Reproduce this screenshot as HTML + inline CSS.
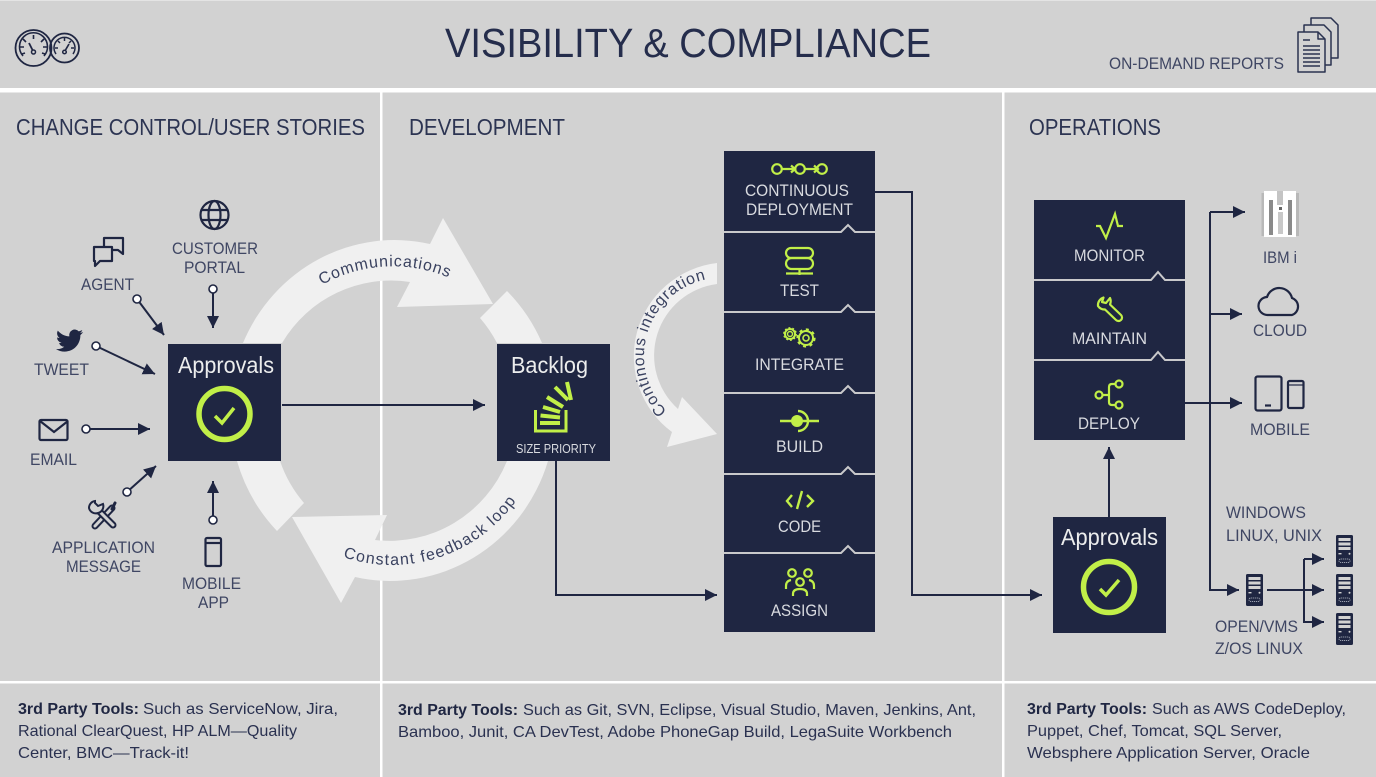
<!DOCTYPE html>
<html><head><meta charset="utf-8"><title>Visibility &amp; Compliance</title>
<style>
html,body{margin:0;padding:0;background:#d2d2d2;width:1376px;height:777px;overflow:hidden}
svg{display:block;font-family:"Liberation Sans",sans-serif}
.l{font-size:17px;fill:#3f4663}
.h{font-size:23px;fill:#2c3452}
.n{font-size:17px;fill:#d9dbe0}
.a{font-size:23px;fill:#eceded}
.f{font-size:16px;fill:#2a3150}
.b{font-size:16px;fill:#1f2642;font-weight:bold}
.c{font-size:16px;fill:#3a4260}
.nv{fill:none;stroke:#1f2642;stroke-width:2.2}
.lm{fill:none;stroke:#c1ef48;stroke-width:2.2}
.cn{fill:none;stroke:#1f2642;stroke-width:2;marker-end:url(#ar)}
.dv{fill:none;stroke:#c9c9cb;stroke-width:2}
</style></head><body>
<svg width="1376" height="777" viewBox="0 0 1376 777" xmlns="http://www.w3.org/2000/svg">
<defs>
<marker id="ar" viewBox="0 0 10 10" refX="10" refY="5" markerUnits="userSpaceOnUse" markerWidth="12" markerHeight="12" orient="auto"><path d="M0 0L10 5L0 10z" fill="#1f2642"/></marker>
<path id="p1" d="M322,285 A144 144 0 0 1 452,279"/>
<path id="p2" d="M343,557 A153 153 0 0 0 522,492"/>
<path id="p3" d="M667,411 A78 78 0 0 1 708,279"/>
<g id="srv"><rect width="17" height="32" rx="1.5" fill="#1f2642"/><rect x="2.5" y="3" width="12" height="3" fill="#d2d2d2"/><rect x="2.5" y="7.5" width="12" height="3" fill="#d2d2d2"/><rect x="2.5" y="12" width="12" height="3" fill="#d2d2d2"/><rect x="2.5" y="18" width="3" height="1.4" fill="#d2d2d2"/><circle cx="13.5" cy="18.7" r="1" fill="#d2d2d2"/><rect x="3" y="24" width="11" height="3.5" rx="1.7" fill="none" stroke="#9aa0ae" stroke-width="1" stroke-dasharray="1.2 .8"/></g>
<circle id="dot" r="4" fill="#fff" stroke="#1f2642" stroke-width="1.6"/>
</defs>
<rect width="1376" height="777" fill="#d2d2d2"/>
<rect width="1376" height="1" fill="#e4e4e4"/>
<!-- grid -->
<g fill="#fff">
<rect x="0" y="88" width="1376" height="4.5"/>
<rect x="0" y="681" width="1376" height="2.5"/>
<rect x="380" y="92" width="2.5" height="685"/>
<rect x="1002" y="92" width="2.5" height="685"/>
</g>
<!-- header -->
<text x="445" y="57" font-size="41" fill="#252d4c" textLength="486" lengthAdjust="spacingAndGlyphs">VISIBILITY &amp; COMPLIANCE</text>
<text x="1109" y="69" class="l" font-size="18" textLength="175" lengthAdjust="spacingAndGlyphs">ON-DEMAND REPORTS</text>
<!-- gauges -->
<g style="fill:none;stroke:#1f2642">
<circle cx="33.5" cy="48" r="18" stroke-width="1.8"/>
<path d="M23 56A14 14 0 1 1 44 56" stroke-width="1.6"/>
<path d="M22 54l3-1M20 47h4M23 39l3 3M33.5 35v4M44 39l-3 3M47 47h-4M45 54l-3-1" stroke-width="1.6"/>
<circle cx="33.5" cy="52" r="2" stroke-width="1.5"/><path d="M32.5 50L29 43" stroke-width="1.8"/>
<circle cx="64.5" cy="48" r="14.5" stroke-width="1.8"/>
<path d="M56 54A10.5 10.5 0 1 1 73 54" stroke-width="1.5"/>
<path d="M55 48h3M58 41l2 2M64.5 38v3M71 41l-2 2M74 48h-3" stroke-width="1.5"/>
<circle cx="64.5" cy="52" r="1.8" stroke-width="1.5"/><path d="M65.5 50L69 44" stroke-width="1.7"/>
</g>
<!-- docs -->
<g stroke="#2a3250" stroke-width="1.5" fill="#d2d2d2" stroke-linejoin="round">
<path d="M1311 18h20l7 7v33h-27z"/>
<path d="M1304 25h20l7 7v33h-27z"/>
<path d="M1298 32h20l7 7v33h-27z"/>
<path d="M1318 32v7h7M1303 40h7M1303 46h17M1303 50h17M1303 54h17M1303 58h17M1303 62h17M1303 66h17" fill="none"/>
</g>
<!-- section headings -->
<text x="16" y="135" class="h" textLength="349" lengthAdjust="spacingAndGlyphs">CHANGE CONTROL/USER STORIES</text>
<text x="409" y="135" class="h" textLength="156" lengthAdjust="spacingAndGlyphs">DEVELOPMENT</text>
<text x="1029" y="135" class="h" textLength="132" lengthAdjust="spacingAndGlyphs">OPERATIONS</text>
<!-- big cycle -->
<g fill="#f0f0f0">
<path d="M243,343 A165 170 0 0 1 430,244 L443,218 L493,304 L397,307 L410,282 A127 129 0 0 0 282,343Z"/>
<path d="M507,291 A165 170 0 0 1 542,343 L497,343 A127 129 0 0 0 480,318Z"/>
<path d="M548,461 A165 170 0 0 1 355,577 L341,603 L292,517 L387,515 L375,540 A127 129 0 0 0 507,461Z"/>
<path d="M237,461 A165 170 0 0 0 277,531 L304,503 A127 129 0 0 1 280,461Z"/>
<path d="M717,263 A94 94 0 0 0 672,432 L667,447 L717,434 L682,397 L678,409 A72 72 0 0 1 717,284Z"/>
</g>
<text class="c" letter-spacing="0.9"><textPath href="#p1">Communications</textPath></text>
<text class="c" letter-spacing="1.25"><textPath href="#p2">Constant feedback loop</textPath></text>
<text class="c" letter-spacing="0.8"><textPath href="#p3">Continous integration</textPath></text>
<!-- left column icons -->
<g class="nv">
<circle cx="214.5" cy="215" r="14"/><ellipse cx="214.5" cy="215" rx="6" ry="14"/><path d="M201 210h27M201 220h27"/>
<path d="M104 246V238H123V254L118 250H112" stroke-linejoin="round"/><path d="M94 247H112V261H100L95 266V261H94Z" stroke-linejoin="round"/>
<rect x="39.5" y="420" width="28" height="20" rx="1.5"/><path d="M40 421l14 11 14-11"/>
<rect x="205.5" y="538" width="15.5" height="28" rx="1.5"/><path d="M205.5 543h15.5"/>
</g>
<path transform="translate(56,327) scale(1.13)" fill="#1f2642" d="M23.95 4.57a10 10 0 0 1-2.82.77 4.96 4.96 0 0 0 2.16-2.72c-.95.55-2 .96-3.12 1.2a4.92 4.92 0 0 0-8.38 4.48C7.69 8.1 4.07 6.13 1.64 3.16c-.42.73-.66 1.58-.66 2.48 0 1.71.87 3.21 2.19 4.1a4.9 4.9 0 0 1-2.23-.61v.06a4.92 4.92 0 0 0 3.95 4.83 5 5 0 0 1-2.21.08 4.94 4.94 0 0 0 4.6 3.42A9.87 9.87 0 0 1 0 19.54a14 14 0 0 0 7.56 2.21c9.05 0 14-7.5 14-13.98 0-.21 0-.42-.02-.63a9.94 9.94 0 0 0 2.46-2.55z"/>
<!-- tools icon -->
<g fill="none" stroke-linecap="round">
<path d="M95 526L112 508" stroke="#1f2642" stroke-width="7"/><path d="M95 526L112 508" stroke="#d2d2d2" stroke-width="3"/>
<path d="M115 503l-3 6" stroke="#1f2642" stroke-width="3"/>
<path d="M97 509L113 525" stroke="#1f2642" stroke-width="7"/><path d="M97 509L113 525" stroke="#d2d2d2" stroke-width="3"/>
<path d="M95 501a7 7 0 0 0-6 7 7 7 0 0 0 9 5 l0 0a7 7 0 0 0 5-9l-5 2-3-3z" stroke="#1f2642" stroke-width="2" fill="#d2d2d2"/>
</g>
<!-- left labels -->
<g class="l">
<text x="172" y="254" textLength="86" lengthAdjust="spacingAndGlyphs">CUSTOMER</text>
<text x="184" y="273" textLength="61" lengthAdjust="spacingAndGlyphs">PORTAL</text>
<text x="81" y="290" textLength="53" lengthAdjust="spacingAndGlyphs">AGENT</text>
<text x="34" y="375" textLength="55" lengthAdjust="spacingAndGlyphs">TWEET</text>
<text x="30" y="465" textLength="47" lengthAdjust="spacingAndGlyphs">EMAIL</text>
<text x="52" y="553" textLength="103" lengthAdjust="spacingAndGlyphs">APPLICATION</text>
<text x="66" y="572" textLength="75" lengthAdjust="spacingAndGlyphs">MESSAGE</text>
<text x="182" y="589" textLength="59" lengthAdjust="spacingAndGlyphs">MOBILE</text>
<text x="198" y="608" textLength="31" lengthAdjust="spacingAndGlyphs">APP</text>
</g>
<!-- left arrows -->
<path class="cn" d="M213 289V328"/>
<path class="cn" d="M137 299L164 335"/>
<path class="cn" d="M96 346L155 374"/>
<path class="cn" d="M86 429H150"/>
<path class="cn" d="M127 492L156 466"/>
<path class="cn" d="M213 520V481"/>
<use href="#dot" x="213" y="289"/><use href="#dot" x="137" y="299"/><use href="#dot" x="96" y="346"/><use href="#dot" x="86" y="429"/><use href="#dot" x="127" y="492"/><use href="#dot" x="213" y="520"/>
<!-- connectors -->
<path class="cn" d="M282 405H485"/>
<path class="cn" d="M556 461V595H717"/>
<path class="cn" d="M875 192H912V595H1042"/>
<path class="cn" d="M1109 517V447"/>
<path class="cn" d="M1210 212H1245"/>
<path class="cn" d="M1210 314H1242"/>
<path class="cn" d="M1185 403H1242"/>
<path class="cn" d="M1210 212V590H1239"/>
<path class="cn" d="M1267 590H1324"/>
<path class="cn" d="M1304 559H1324"/>
<path class="cn" d="M1304 559V622H1324"/>
<!-- approvals 1 -->
<rect x="168" y="344" width="113" height="117" fill="#1f2642"/>
<text x="178" y="373" class="a" textLength="96" lengthAdjust="spacingAndGlyphs">Approvals</text>
<circle cx="224.500" cy="414" r="25.500" class="lm" style="stroke-width:5.500"/>
<path d="M215 416L222 423L234 408" class="lm" style="stroke-width:3.500"/>
<!-- backlog -->
<rect x="497" y="344" width="113" height="117" fill="#1f2642"/>
<text x="511" y="373" class="a" textLength="77" lengthAdjust="spacingAndGlyphs">Backlog</text>
<path d="M535.500 410V431H566V410" class="lm" style="stroke-width:3"/>
<g class="lm" style="stroke-width:4">
<path d="M540 423H560M540.500 415.500L560 417.500M543 407L560 412M547 397L563 407M555 387L568 400M567 382L571 400"/>
</g>
<text x="516" y="453" font-size="13" fill="#d9dbe0" textLength="80" lengthAdjust="spacingAndGlyphs">SIZE PRIORITY</text>
<!-- dev stack -->
<rect x="724" y="151" width="151" height="481" fill="#1f2642"/>
<g class="dv">
<path d="M724 232H841L848 225L855 232H875"/>
<path d="M724 312H841L848 305L855 312H875"/>
<path d="M724 393H841L848 386L855 393H875"/>
<path d="M724 474H841L848 467L855 474H875"/>
<path d="M724 553H841L848 546L855 553H875"/>
</g>
<g class="n">
<text x="745" y="196" textLength="104" lengthAdjust="spacingAndGlyphs">CONTINUOUS</text>
<text x="746" y="215" textLength="107" lengthAdjust="spacingAndGlyphs">DEPLOYMENT</text>
<text x="780" y="296" textLength="39" lengthAdjust="spacingAndGlyphs">TEST</text>
<text x="755" y="370" textLength="89" lengthAdjust="spacingAndGlyphs">INTEGRATE</text>
<text x="776" y="452" textLength="47" lengthAdjust="spacingAndGlyphs">BUILD</text>
<text x="778" y="532" textLength="43" lengthAdjust="spacingAndGlyphs">CODE</text>
<text x="771" y="616" textLength="57" lengthAdjust="spacingAndGlyphs">ASSIGN</text>
</g>
<g class="lm">
<circle cx="777" cy="169" r="4.800"/><circle cx="800" cy="169" r="4.800"/><circle cx="822" cy="169" r="4.800"/>
<path d="M782 169H794M791 165.500L795 169L791 172.500M805 169H817M814 165.500L818 169L814 172.500"/>
<rect x="786" y="248" width="27" height="10" rx="5"/><rect x="786" y="258" width="27" height="11" rx="5.500"/><path d="M786 273.500H813M799.500 270V275"/>
<circle cx="790" cy="334" r="2.500" style="stroke-width:1.400"/><circle cx="790" cy="334" r="5" style="stroke-width:2"/><circle cx="790" cy="334" r="6" style="stroke-width:1.800;stroke-dasharray:1.800 2"/>
<circle cx="806" cy="338" r="3" style="stroke-width:1.600"/><circle cx="806" cy="338" r="7" style="stroke-width:2"/><circle cx="806" cy="338" r="8.500" style="stroke-width:2.200;stroke-dasharray:3 3.600"/>
<path d="M780 421H819M798 411A10 10 0 0 1 798 431" style="stroke-width:2.400"/>
<path d="M792 495L787 501L792 507M807 495L813 501L807 507M802 491L797 509" style="stroke-width:2.400"/>
<circle cx="792" cy="573" r="3.800"/><circle cx="808" cy="573" r="3.800"/><circle cx="800" cy="582" r="3.800"/>
<path d="M786 589V586Q786 581 791 580M814 589V586Q814 581 809 580M793 596V594Q793 589 800 589Q807 589 807 594V596"/>
</g>
<circle cx="797" cy="421" r="6" fill="#c1ef48"/>
<!-- ops stack -->
<rect x="1034" y="200" width="151" height="240" fill="#1f2642"/>
<g class="dv">
<path d="M1034 280H1151L1158 272L1165 280H1185"/>
<path d="M1034 360H1151L1158 352L1165 360H1185"/>
</g>
<g class="n">
<text x="1074" y="261" textLength="71" lengthAdjust="spacingAndGlyphs">MONITOR</text>
<text x="1072" y="344" textLength="75" lengthAdjust="spacingAndGlyphs">MAINTAIN</text>
<text x="1078" y="429" textLength="62" lengthAdjust="spacingAndGlyphs">DEPLOY</text>
</g>
<path d="M1096 226H1100L1106 238L1115 214L1118 226H1123" class="lm"/>
<path d="M1103.500 297.500A8 8 0 0 0 1098 306A8 8 0 0 0 1105 309.500L1116 320A3.500 3.500 0 0 0 1121 315L1110 304.500A8 8 0 0 0 1110 298L1106 303L1102 302Z" class="lm" stroke-linejoin="round"/>
<g class="lm"><circle cx="1099" cy="395" r="3.500"/><circle cx="1119" cy="384" r="3.500"/><circle cx="1119" cy="405" r="3.500"/><path d="M1102.500 395H1109M1115.500 384H1112Q1109 384 1109 387V402Q1109 405 1112 405H1115.500"/></g>
<!-- approvals 2 -->
<rect x="1053" y="517" width="113" height="116" fill="#1f2642"/>
<text x="1061" y="545" class="a" textLength="97" lengthAdjust="spacingAndGlyphs">Approvals</text>
<circle cx="1109" cy="587" r="25.500" class="lm" style="stroke-width:5.500"/>
<path d="M1100 589L1106 595L1119 580" class="lm" style="stroke-width:3.500"/>
<!-- ibm i -->
<rect x="1261.500" y="193" width="37.500" height="43" fill="#b8b8b8"/>
<rect x="1264" y="191" width="32" height="46" fill="#fff"/>
<rect x="1269" y="200" width="4" height="35" fill="#8a8a8a"/><rect x="1278" y="212" width="5" height="22" fill="#c8c8c8"/><rect x="1288" y="200" width="4" height="35" fill="#8a8a8a"/>
<rect x="1277" y="191" width="6" height="14" fill="#c4c4c4"/>
<rect x="1279" y="207" width="3" height="3" fill="#666"/>
<!-- right icons -->
<path d="M1268 315a9 9 0 0 1-1-18a13 13 0 0 1 25 1a9 9 0 0 1 0 17z" class="nv"/>
<rect x="1255.500" y="376.500" width="26" height="34" rx="2" class="nv"/><path d="M1265 405.500h6" class="nv"/>
<rect x="1288" y="381" width="15.500" height="27" rx="1.500" class="nv"/><path d="M1288 385h15.500" class="nv" style="stroke-width:1.200"/>
<use href="#srv" x="1246" y="574"/><use href="#srv" x="1336" y="535"/><use href="#srv" x="1336" y="574"/><use href="#srv" x="1336" y="613"/>
<g class="l">
<text x="1263" y="263" textLength="34" lengthAdjust="spacingAndGlyphs">IBM i</text>
<text x="1253" y="336" textLength="54" lengthAdjust="spacingAndGlyphs">CLOUD</text>
<text x="1250" y="435" textLength="60" lengthAdjust="spacingAndGlyphs">MOBILE</text>
<text x="1226" y="518" textLength="80" lengthAdjust="spacingAndGlyphs">WINDOWS</text>
<text x="1226" y="541" textLength="96" lengthAdjust="spacingAndGlyphs">LINUX, UNIX</text>
<text x="1215" y="632" textLength="83" lengthAdjust="spacingAndGlyphs">OPEN/VMS</text>
<text x="1215" y="654" textLength="88" lengthAdjust="spacingAndGlyphs">Z/OS LINUX</text>
</g>
<!-- footer -->
<text x="18" y="714" class="b" textLength="121" lengthAdjust="spacingAndGlyphs">3rd Party Tools:</text>
<text x="143" y="714" class="f" textLength="195" lengthAdjust="spacingAndGlyphs">Such as ServiceNow, Jira,</text>
<text x="18" y="736" class="f" textLength="279" lengthAdjust="spacingAndGlyphs">Rational ClearQuest, HP ALM—Quality</text>
<text x="18" y="758" class="f" textLength="171" lengthAdjust="spacingAndGlyphs">Center, BMC—Track-it!</text>
<text x="398" y="715" class="b" textLength="120" lengthAdjust="spacingAndGlyphs">3rd Party Tools:</text>
<text x="523" y="715" class="f" textLength="453" lengthAdjust="spacingAndGlyphs">Such as Git, SVN, Eclipse, Visual Studio, Maven, Jenkins, Ant,</text>
<text x="398" y="737" class="f" textLength="554" lengthAdjust="spacingAndGlyphs">Bamboo, Junit, CA DevTest, Adobe PhoneGap Build, LegaSuite Workbench</text>
<text x="1027" y="714" class="b" textLength="120" lengthAdjust="spacingAndGlyphs">3rd Party Tools:</text>
<text x="1152" y="714" class="f" textLength="194" lengthAdjust="spacingAndGlyphs">Such as AWS CodeDeploy,</text>
<text x="1027" y="736" class="f" textLength="255" lengthAdjust="spacingAndGlyphs">Puppet, Chef, Tomcat, SQL Server,</text>
<text x="1027" y="758" class="f" textLength="283" lengthAdjust="spacingAndGlyphs">Websphere Application Server, Oracle</text>
</svg>
</body></html>
